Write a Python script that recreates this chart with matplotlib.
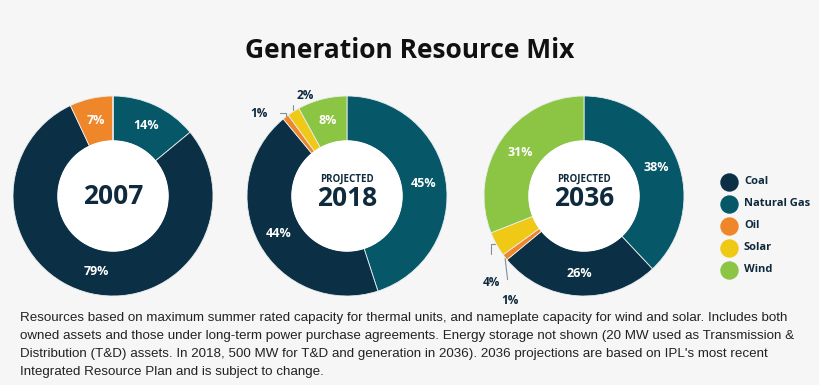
import numpy as np
import matplotlib.pyplot as plt

# category order as shown in the legend
categories = ['Coal', 'Natural Gas', 'Oil', 'Solar', 'Wind']
colors = ['#0b3045', '#065869', '#f0862a', '#f0c816', '#8cc443']

mix_2007 = [79, 14, 7, 0, 0]
mix_2018 = [44, 45, 1, 2, 8]
mix_2036 = [26, 38, 1, 4, 31]

# clockwise drawing order starting at 12 o'clock
pie_order = [1, 0, 2, 3, 4]

footer = ("Resources based on maximum summer rated capacity for thermal units, and nameplate capacity for wind and solar. Includes both\n"
          "owned assets and those under long-term power purchase agreements. Energy storage not shown (20 MW used as Transmission &\n"
          "Distribution (T&D) assets. In 2018, 500 MW for T&D and generation in 2036). 2036 projections are based on IPL's most recent\n"
          "Integrated Resource Plan and is subject to change.")

plt.rcParams['font.family'] = ['Open Sans', 'DejaVu Sans']
dark = '#0f2a3c'
bg = '#f6f6f6'

fig = plt.figure(figsize=(8.2, 3.85), dpi=100, facecolor=bg)
ax = fig.add_axes([0, 0, 1, 1])
ax.set_xlim(0, 820)
ax.set_ylim(0, 385)
ax.set_aspect('equal')
ax.axis('off')

H = 385
R = 100
HOLE = 0.55


def donut(cx, cy, values, center_top, center_year, outside=None):
    vals = [values[i] for i in pie_order]
    cols = [colors[i] for i in pie_order]
    wedges, _ = ax.pie(vals, colors=cols, startangle=90, counterclock=False,
                       center=(cx, H - cy), radius=R, frame=True,
                       wedgeprops=dict(width=R * (1 - HOLE), edgecolor='#e8eef0', linewidth=0.6))
    # white centre of the ring
    ax.add_patch(plt.Circle((cx, H - cy), R * HOLE, color='white', zorder=2))
    outside = outside or {}
    for w, v, idx in zip(wedges, vals, pie_order):
        if v == 0:
            continue
        mid = np.deg2rad((w.theta1 + w.theta2) / 2)
        if idx in outside:
            tx, ty, cs, sa = outside[idx]
            px = cx + R * np.cos(mid)
            py = H - cy + R * np.sin(mid)
            ax.annotate(f'{v}%', xy=(px, py), xytext=(tx, H - ty),
                        ha='center', va='center', fontsize=8.5, fontweight='bold', color=dark,
                        arrowprops=dict(arrowstyle='-', color='#7f8f99', lw=0.8,
                                        connectionstyle=cs, shrinkA=sa, shrinkB=1))
        else:
            r = R * 0.775
            ax.text(cx + r * np.cos(mid), H - cy + r * np.sin(mid), f'{v}%',
                    ha='center', va='center', fontsize=9, fontweight='bold', color='white')
    if center_top:
        ax.text(cx, H - cy + 17, center_top, ha='center', va='center',
                fontsize=7, fontweight='bold', color=dark, zorder=3)
        ax.text(cx, H - cy - 3, center_year, ha='center', va='center',
                fontsize=19, fontweight='bold', color=dark, zorder=3)
    else:
        ax.text(cx, H - cy, center_year, ha='center', va='center',
                fontsize=19, fontweight='bold', color=dark, zorder=3)


donut(113, 196, mix_2007, None, '2007')
donut(347, 196, mix_2018, 'PROJECTED', '2018',
      outside={2: (259, 113, 'angle,angleA=0,angleB=90,rad=0', 7),
               3: (305, 95, 'angle,angleA=0,angleB=90,rad=0', 7)})
donut(584, 196, mix_2036, 'PROJECTED', '2036',
      outside={3: (491, 283, 'angle,angleA=90,angleB=0,rad=0', 14),
               2: (510, 300, 'arc3', 8)})

ax.set_xlim(0, 820)
ax.set_ylim(0, 385)

ax.text(410, H - 50, 'Generation Resource Mix', ha='center', va='center',
        fontsize=19, fontweight='bold', color='#111111')

# legend
for k, (name, col) in enumerate(zip(categories, colors)):
    y = 182 + k * 22
    ax.scatter([729], [H - y], s=150, color=col, zorder=3)
    ax.text(744, H - y, name, ha='left', va='center', fontsize=8,
            fontweight='bold', color=dark)

ax.text(20, H - 312, footer, ha='left', va='top', fontsize=9.6,
        family=['Liberation Sans', 'DejaVu Sans'], color='#222222',
        linespacing=1.68)

fig.savefig('out.png', dpi=100, facecolor=bg)
